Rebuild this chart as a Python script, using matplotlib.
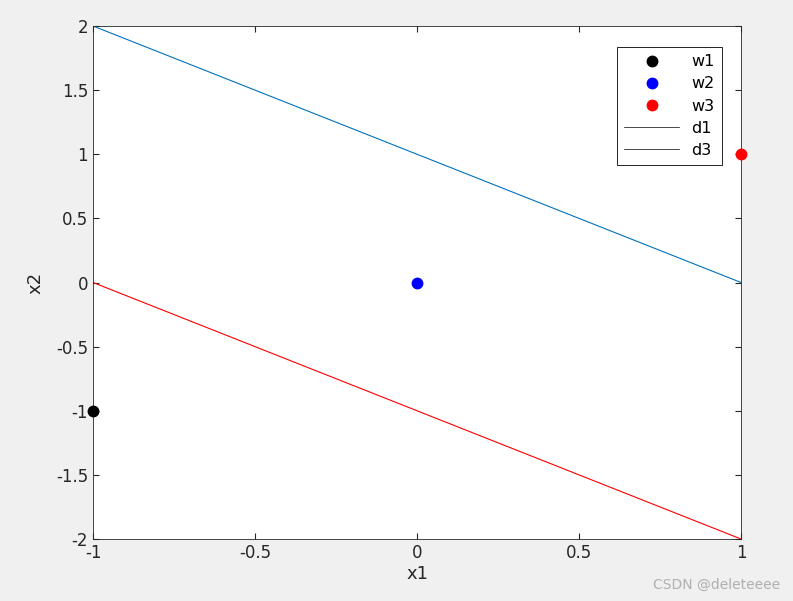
import matplotlib
matplotlib.use("Agg")
import matplotlib.pyplot as plt
from matplotlib.lines import Line2D

w1 = ([-1], [-1]); w2 = ([0], [0]); w3 = ([1], [1])
line_x = [-1, 1]
d1_y = [0, -2]
d3_y = [2, 0]

W, H = 793, 601
fig = plt.figure(figsize=(W/100, H/100), dpi=100, facecolor='#f0f0f0')
ax = fig.add_axes([93/W, 1-539/H, (741-93)/W, (539-26)/H])
ax.plot(*w1, 'o', color='black', ms=7.5, clip_on=False, zorder=5)
ax.plot(*w2, 'o', color='blue', ms=7.5, clip_on=False, zorder=5)
ax.plot(*w3, 'o', color='red', ms=7.5, clip_on=False, zorder=5)
ax.plot(line_x, d1_y, color='red', lw=0.8)
ax.plot(line_x, d3_y, color='#0072bd', lw=0.8)
ax.set_xlim(-1, 1); ax.set_ylim(-2, 2)
ax.set_xticks([-1, -0.5, 0, 0.5, 1]); ax.set_xticklabels(['-1', '-0.5', '0', '0.5', '1'])
ax.set_yticks([-2, -1.5, -1, -0.5, 0, 0.5, 1, 1.5, 2])
ax.set_yticklabels(['-2', '-1.5', '-1', '-0.5', '0', '0.5', '1', '1.5', '2'])
ax.tick_params(labelsize=12, direction='in', length=4, top=True, right=True, colors='#262626')
for s in ax.spines.values():
    s.set_color('#262626'); s.set_linewidth(0.6)
ax.set_xlabel('x1', fontsize=13, color='#262626', labelpad=2)
ax.set_ylabel('x2', fontsize=13, color='#262626', labelpad=8)
handles = [
    Line2D([], [], marker='o', ls='', color='black', ms=7.5),
    Line2D([], [], marker='o', ls='', color='blue', ms=7.5),
    Line2D([], [], marker='o', ls='', color='red', ms=7.5),
    Line2D([], [], color='black', lw=0.5),
    Line2D([], [], color='black', lw=0.5),
]
leg = ax.legend(handles, ['w1', 'w2', 'w3', 'd1', 'd3'], loc='upper right',
                bbox_to_anchor=(730/W, 1-39/H), bbox_transform=fig.transFigure,
                fontsize=11.5, fancybox=False, edgecolor='black', framealpha=1,
                handlelength=3.4, borderpad=0.45, labelspacing=0.45)
leg.get_frame().set_linewidth(0.6)
fig.text(780/W, 1-585/H, 'CSDN @deleteeee', ha='right', va='center', fontsize=10, color='#b0b0b0')
fig.savefig('out.png', dpi=100, facecolor=fig.get_facecolor())
